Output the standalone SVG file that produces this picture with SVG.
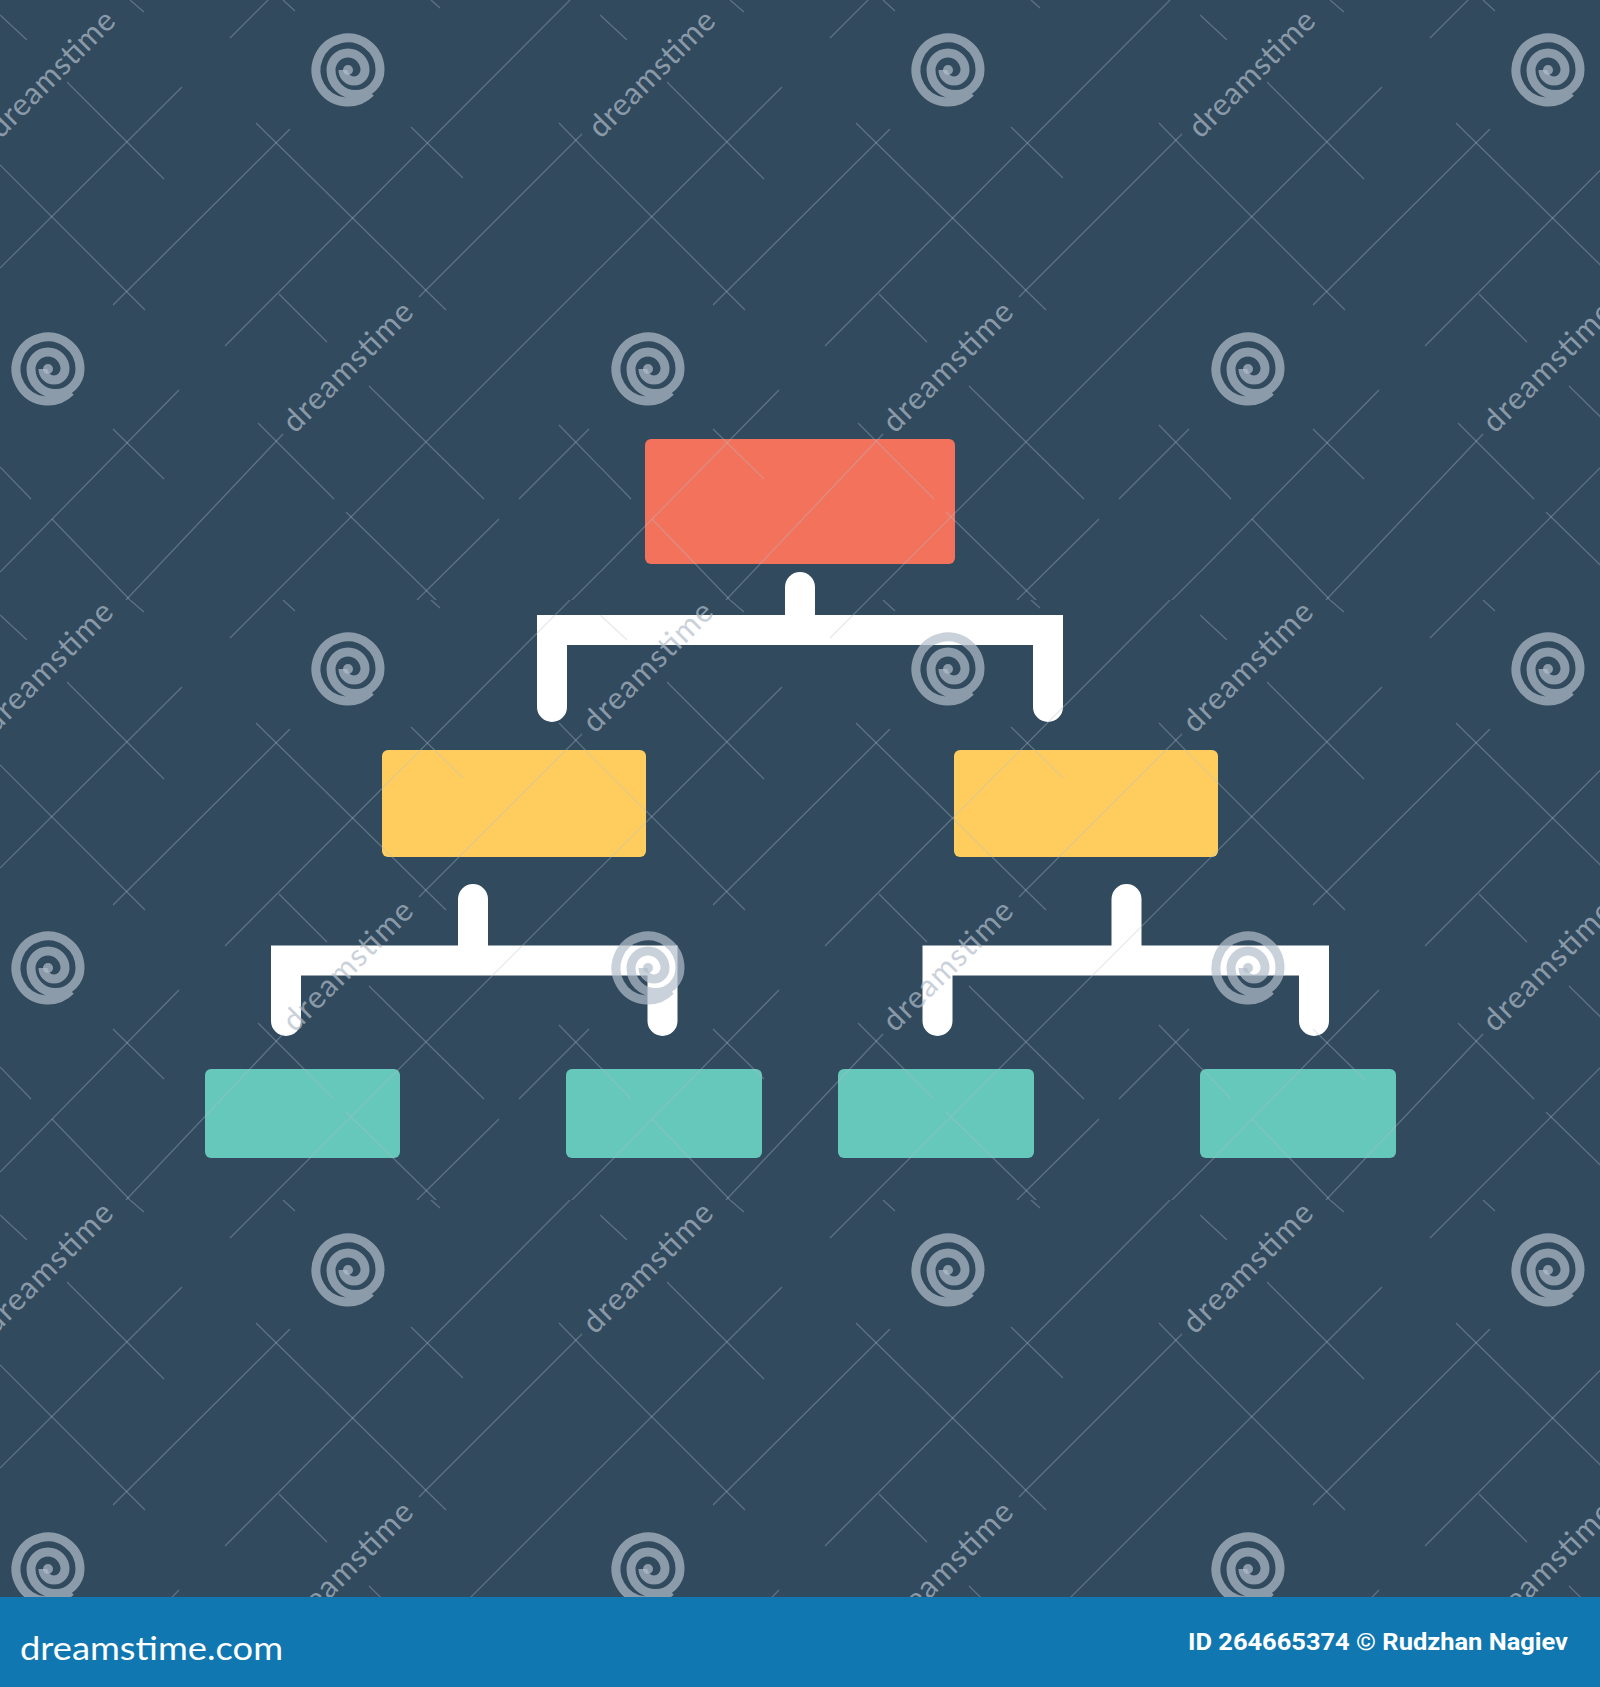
<svg xmlns="http://www.w3.org/2000/svg" xmlns:xlink="http://www.w3.org/1999/xlink" width="1600" height="1687" viewBox="0 0 1600 1687">
  <style>
    .red { fill: #f2725c; }
    .yellow { fill: #fecd5e; }
    .teal { fill: #66c7bb; }
    .conn { fill: none; stroke: #ffffff; stroke-width: 30; stroke-linecap: round; stroke-linejoin: miter; }
    .wm-text { font-family: "Lato", "Noto Sans", sans-serif; font-size: 31px; fill: #b2bdca; fill-opacity: 0.7; text-anchor: middle; }
    .wm-spiral { fill: none; stroke: #b2bdca; stroke-opacity: 0.7; stroke-width: 9; }
    .wm-line { fill: none; stroke: #b2bdca; stroke-opacity: 0.35; stroke-width: 1.2; }
    .banner-left { font-family: "Lato", "Noto Sans", sans-serif; font-size: 32px; fill: #ffffff; }
    .banner-right { font-family: "Roboto", "Liberation Sans", sans-serif; font-size: 24px; font-weight: bold; fill: #ffffff; }
  </style>
  <defs>
    <symbol id="spiral" overflow="visible">
      <path class="wm-spiral" d="M22.6,22.6 A32,32 0 1 1 32,0 A24.5,24.5 0 0 1 -17,0 A17,17 0 0 1 17,0 A11,11 0 0 1 -5,0"/>
      <circle cx="0" cy="0" r="5" fill="#b2bdca" fill-opacity="0.7"/>
    </symbol>
    <pattern id="wm-lines" x="0" y="0" width="600" height="600" patternUnits="userSpaceOnUse">
      <path class="wm-line" d="M0,15 L27,40 M67,82 L164,179 M0,165 L145,310 M256,123 L446,310 M411,127 L463,178 M559,123 L600,165 M279,294 L327,342 M369,386 L484,499 M113,429 L164,479 M0,467 L31,499 M258,423 L334,499 M52,519 L130,600 M346,512 L436,600 M559,425 L600,467 M130,0 L144,12 M283,0 L295,11 M431,0 L440,8"/>
      <path class="wm-line" d="M230,38 L268,0 M0,268 L182,87 M113,305 L290,129 M225,346 L570,0 M419,297 L582,134 M0,572 L179,390 M126,600 L283,434 M268,600 L600,268 M417,600 L499,519 M519,499 L589,429 M572,600 L600,572"/>
    </pattern>
  </defs>

  <rect x="0" y="0" width="1600" height="1687" fill="#314a5e"/>

  <g id="org-top" class="node">
    <rect class="red" x="645" y="439" width="310" height="125" rx="6"/>
  </g>
  <g id="org-mid-left" class="node">
    <rect class="yellow" x="382" y="750" width="264" height="107" rx="6"/>
  </g>
  <g id="org-mid-right" class="node">
    <rect class="yellow" x="954" y="750" width="264" height="107" rx="6"/>
  </g>
  <g id="org-leaf-1" class="node">
    <rect class="teal" x="205" y="1069" width="195" height="89" rx="6"/>
  </g>
  <g id="org-leaf-2" class="node">
    <rect class="teal" x="566" y="1069" width="196" height="89" rx="6"/>
  </g>
  <g id="org-leaf-3" class="node">
    <rect class="teal" x="838" y="1069" width="196" height="89" rx="6"/>
  </g>
  <g id="org-leaf-4" class="node">
    <rect class="teal" x="1200" y="1069" width="196" height="89" rx="6"/>
  </g>

  <g id="connectors">
    <path class="conn" d="M800,587 V628"/>
    <path class="conn" d="M552,707 V630 H1048 V707"/>
    <path class="conn" d="M473,899 V958"/>
    <path class="conn" d="M286,1021 V960.5 H662.5 V1021"/>
    <path class="conn" d="M1126.5,899 V958"/>
    <path class="conn" d="M937.5,1021 V960.5 H1314 V1021"/>
  </g>

  <g id="watermark">
    <rect x="0" y="0" width="1600" height="1597" fill="url(#wm-lines)"/>

    <use href="#spiral" x="348" y="70"/>
    <use href="#spiral" x="948" y="70"/>
    <use href="#spiral" x="1548" y="70"/>
    <use href="#spiral" x="48" y="369"/>
    <use href="#spiral" x="648" y="369"/>
    <use href="#spiral" x="1248" y="369"/>
    <use href="#spiral" x="348" y="669"/>
    <use href="#spiral" x="948" y="669"/>
    <use href="#spiral" x="1548" y="669"/>
    <use href="#spiral" x="48" y="968"/>
    <use href="#spiral" x="648" y="968"/>
    <use href="#spiral" x="1248" y="968"/>
    <use href="#spiral" x="348" y="1270"/>
    <use href="#spiral" x="948" y="1270"/>
    <use href="#spiral" x="1548" y="1270"/>
    <use href="#spiral" x="48" y="1569"/>
    <use href="#spiral" x="648" y="1569"/>
    <use href="#spiral" x="1248" y="1569"/>

    <text class="wm-text" transform="translate(52,74) rotate(-45)" textLength="165" y="10">dreamstime</text>
    <text class="wm-text" transform="translate(652,74) rotate(-45)" textLength="165" y="10">dreamstime</text>
    <text class="wm-text" transform="translate(1252,74) rotate(-45)" textLength="165" y="10">dreamstime</text>
    <text class="wm-text" transform="translate(348,367) rotate(-45)" textLength="170" y="10">dreamstime</text>
    <text class="wm-text" transform="translate(948,367) rotate(-45)" textLength="170" y="10">dreamstime</text>
    <text class="wm-text" transform="translate(1548,367) rotate(-45)" textLength="170" y="10">dreamstime</text>
    <text class="wm-text" transform="translate(48,667) rotate(-45)" textLength="170" y="10">dreamstime</text>
    <text class="wm-text" transform="translate(648,667) rotate(-45)" textLength="170" y="10">dreamstime</text>
    <text class="wm-text" transform="translate(1248,667) rotate(-45)" textLength="170" y="10">dreamstime</text>
    <text class="wm-text" transform="translate(348,966) rotate(-45)" textLength="170" y="10">dreamstime</text>
    <text class="wm-text" transform="translate(948,966) rotate(-45)" textLength="170" y="10">dreamstime</text>
    <text class="wm-text" transform="translate(1548,966) rotate(-45)" textLength="170" y="10">dreamstime</text>
    <text class="wm-text" transform="translate(48,1268) rotate(-45)" textLength="170" y="10">dreamstime</text>
    <text class="wm-text" transform="translate(648,1268) rotate(-45)" textLength="170" y="10">dreamstime</text>
    <text class="wm-text" transform="translate(1248,1268) rotate(-45)" textLength="170" y="10">dreamstime</text>
    <text class="wm-text" transform="translate(348,1567) rotate(-45)" textLength="170" y="10">dreamstime</text>
    <text class="wm-text" transform="translate(948,1567) rotate(-45)" textLength="170" y="10">dreamstime</text>
    <text class="wm-text" transform="translate(1548,1567) rotate(-45)" textLength="170" y="10">dreamstime</text>
  </g>

  <g id="banner">
    <rect x="0" y="1597" width="1600" height="90" fill="#1077b0"/>
    <text class="banner-left" x="20" y="1660" textLength="263" lengthAdjust="spacingAndGlyphs">dreamstime.com</text>
    <text class="banner-right" x="1188" y="1650" textLength="380" lengthAdjust="spacingAndGlyphs">ID 264665374 © Rudzhan Nagiev</text>
  </g>
</svg>
